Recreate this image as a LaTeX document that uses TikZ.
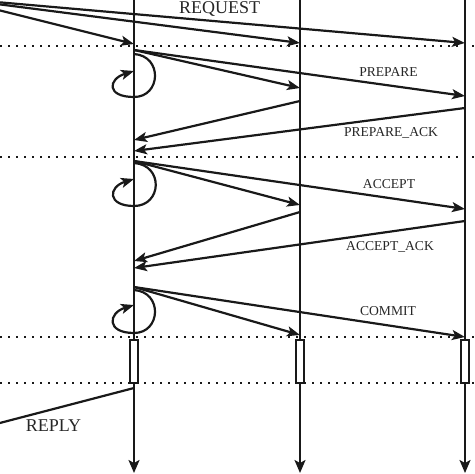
\documentclass[tikz,border=0pt]{standalone}
\usepackage{fontspec}
\setmainfont{Liberation Serif}
\usetikzlibrary{arrows.meta}

\begin{document}
\begin{tikzpicture}[x=0.5pt,y=-0.5pt]
  % Local definitions
  \def\nodeA{134}
  \def\nodeB{300}
  \def\nodeC{465}
  \def\clientx{-50}

  % Key Colors
  \colorlet{linecolor}  {black!90}
  \colorlet{textcolor}  {black!85}

  % Styles
  \tikzstyle{lifeline}=[linecolor,line width=1.1pt,-{Stealth[length=6.5pt,width=5.5pt,inset=1.5pt]}]
  \tikzstyle{message}=[linecolor,line width=1.1pt,-{Stealth[length=6.5pt,width=5pt,inset=1.5pt]}]
  \tikzstyle{reply line}=[linecolor,line width=1.1pt]
  \tikzstyle{phase line}=[linecolor,line width=1pt,dash pattern=on 1pt off 3pt]
  \tikzstyle{activity}=[draw=linecolor,line width=0.8pt,fill=white,minimum width=4pt,minimum height=21.5pt,inner sep=0pt]
  \tikzstyle{msg label}=[text=textcolor,font=\fontsize{6.8}{8}\selectfont,inner sep=0pt]
  \tikzstyle{big label}=[text=textcolor,font=\fontsize{9}{10}\selectfont,inner sep=0pt]

  \useasboundingbox (0,0) rectangle (474,474);
  \clip (0,0) rectangle (474,474);

  % Key Points
  \coordinate (client)     at (\clientx, -2);
  \coordinate (reply end)  at (\clientx, 436);

  \coordinate (A top)      at (\nodeA,   -5);
  \coordinate (A bot)      at (\nodeA,   473);
  \coordinate (B top)      at (\nodeB,   -5);
  \coordinate (B bot)      at (\nodeB,   473);
  \coordinate (C top)      at (\nodeC,   -5);
  \coordinate (C bot)      at (\nodeC,   473);

  \coordinate (req A)      at (\nodeA,   44);
  \coordinate (req B)      at (\nodeB,   43);
  \coordinate (req C)      at (\nodeC,   43);

  \coordinate (prep A)     at (\nodeA,   50);
  \coordinate (prep B)     at (\nodeB,   88);
  \coordinate (prep C)     at (\nodeC,   96);
  \coordinate (pack B)     at (\nodeB,   101);
  \coordinate (pack C)     at (\nodeC,   108);
  \coordinate (pack A1)    at (\nodeA,   140);
  \coordinate (pack A2)    at (\nodeA,   151);

  \coordinate (acc A)      at (\nodeA,   161);
  \coordinate (acc B)      at (\nodeB,   205);
  \coordinate (acc C)      at (\nodeC,   209);
  \coordinate (aack B)     at (\nodeB,   212);
  \coordinate (aack C)     at (\nodeC,   221);
  \coordinate (aack A1)    at (\nodeA,   261);
  \coordinate (aack A2)    at (\nodeA,   268);

  \coordinate (com A)      at (\nodeA,   287);
  \coordinate (com B)      at (\nodeB,   335);
  \coordinate (com C)      at (\nodeC,   337);

  \coordinate (reply A)    at (\nodeA,   388);

  % Self loops
  \coordinate (loop1 s)    at (\nodeA,   54);
  \coordinate (loop1 b)    at (\nodeA,   97);
  \coordinate (loop1 e)    at (\nodeA,   71);
  \coordinate (loop2 s)    at (\nodeA,   163);
  \coordinate (loop2 b)    at (\nodeA,   206);
  \coordinate (loop2 e)    at (\nodeA,   179);
  \coordinate (loop3 s)    at (\nodeA,   290);
  \coordinate (loop3 b)    at (\nodeA,   333);
  \coordinate (loop3 e)    at (\nodeA,   305);

  % Phase separators
  \draw[phase line] (0,46)  -- (474,46);
  \draw[phase line] (0,157) -- (474,157);
  \draw[phase line] (0,337) -- (474,337);
  \draw[phase line] (0,383) -- (474,383);

  % Lifelines
  \draw[lifeline] (A top) -- (A bot);
  \draw[lifeline] (B top) -- (B bot);
  \draw[lifeline] (C top) -- (C bot);

  \node[activity] (act A) at (\nodeA,361.5) {};
  \node[activity] (act B) at (\nodeB,361.5) {};
  \node[activity] (act C) at (\nodeC,361.5) {};

  % Request
  \draw[message] (client) -- (req A);
  \draw[message] (client) -- (req B);
  \draw[message] (client) -- (req C);
  \node[big label] (lreq) at (219.5,9.5) {REQUEST};

  % Prepare
  \draw[message] (loop1 s) .. controls +(29,2) and +(27,0) .. (loop1 b)
                           .. controls +(-28,0) and +(-26,8) .. (loop1 e);
  \draw[message] (prep A) -- (prep B);
  \draw[message] (prep A) -- (prep C);
  \draw[message] (pack B) -- (pack A1);
  \draw[message] (pack C) -- (pack A2);
  \node[msg label] (lprep) at (388.5,72.5)  {PREPARE};
  \node[msg label] (lpack) at (391,132.5)   {PREPARE\_ACK};

  % Accept
  \draw[message] (loop2 s) .. controls +(30,2) and +(28,0) .. (loop2 b)
                           .. controls +(-27,0) and +(-26,8) .. (loop2 e);
  \draw[message] (acc A) -- (acc B);
  \draw[message] (acc A) -- (acc C);
  \draw[message] (aack B) -- (aack A1);
  \draw[message] (aack C) -- (aack A2);
  \node[msg label] (lacc)  at (389,184.5)   {ACCEPT};
  \node[msg label] (laack) at (390,246.5)   {ACCEPT\_ACK};

  % Commit
  \draw[message] (loop3 s) .. controls +(29,2) and +(27,0) .. (loop3 b)
                           .. controls +(-28,0) and +(-26,8) .. (loop3 e);
  \draw[message] (com A) -- (com B);
  \draw[message] (com A) -- (com C);
  \node[msg label] (lcom)  at (388,311)     {COMMIT};

  % Reply
  \draw[reply line] (reply A) -- (reply end);
  \node[big label] (lrep)  at (53.5,426)    {REPLY};

\end{tikzpicture}
\end{document}
